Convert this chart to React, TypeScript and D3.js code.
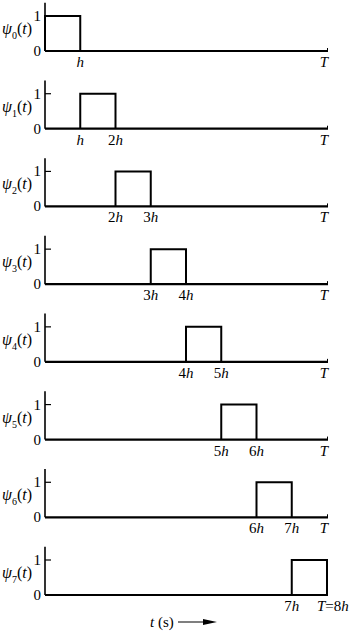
import * as d3 from "d3";

// basis functions psi_k(t): block pulse k is 1 on [k h, (k+1) h]
const basisIndex = [0, 1, 2, 3, 4, 5, 6, 7];
const pulseStart = [0, 1, 2, 3, 4, 5, 6, 7];
const pulseHeight = [1, 1, 1, 1, 1, 1, 1, 1];
const yTickLabels = ["0", "1"];
const tEnd = 8; // T = 8h
const endLabels = ["T", "T", "T", "T", "T", "T", "T", "T=8h"];
const xAxisTitle = "t (s)";

const width = 355;
const height = 633;
const serif = "Liberation Serif, DejaVu Serif, serif";

// "kh" label with upright digit and italic h
const hLabel = (k: number) => (
  <>
    {k > 1 ? <tspan>{k}</tspan> : null}
    <tspan fontStyle="italic">h</tspan>
  </>
);

const App = () => {
  const x = d3.scaleLinear().domain([0, tEnd]).range([45, 327]);
  const baseline = d3.scaleLinear().domain([0, 7]).range([51, 595]);
  const yUnit = 35;

  return (
    <svg
      width={width}
      height={height}
      style={{ position: "absolute", left: 0, top: 0, background: "#fff", fontFamily: serif }}
    >
      {basisIndex.map((k, i) => {
        const b = baseline(i);
        const y = d3.scaleLinear().domain([0, 1]).range([b, b - yUnit]);
        const s = pulseStart[i];
        const pulse = d3.line<[number, number]>()([
          [x(s), y(0)],
          [x(s), y(pulseHeight[i])],
          [x(s + 1), y(pulseHeight[i])],
          [x(s + 1), y(0)],
        ]);
        const labels: number[] = (s === 0 ? [1] : [s, s + 1]).filter((t) => t < tEnd);
        return (
          <g key={k}>
            {/* y axis */}
            <line x1={x(0)} x2={x(0)} y1={y(0)} y2={y(1.38)} stroke="#000" strokeWidth={1.6} />
            <line x1={x(0)} x2={x(0) + 6} y1={y(1)} y2={y(1)} stroke="#000" strokeWidth={1.2} />
            {/* time axis */}
            <line x1={x(0)} x2={x(tEnd) + 1} y1={y(0)} y2={y(0)} stroke="#000" strokeWidth={2.2} />
            <line x1={x(tEnd) + 0.5} x2={x(tEnd) + 0.5} y1={y(0) - 3} y2={y(0)} stroke="#000" strokeWidth={1} />
            <path d={pulse ?? ""} fill="none" stroke="#000" strokeWidth={2} />
            {/* y tick labels */}
            {yTickLabels.map((t, j) => (
              <text key={t} x={x(0) - 4} y={y(j) + 5} textAnchor="end" fontSize={15}>
                {t}
              </text>
            ))}
            {/* panel label psi_k(t) */}
            <text x={2} y={b - 17} fontSize={16}>
              <tspan fontStyle="italic">ψ</tspan>
              <tspan fontSize={10} dy={5}>{k}</tspan>
              <tspan dy={-5}>(</tspan>
              <tspan fontStyle="italic">t</tspan>
              <tspan>)</tspan>
            </text>
            {/* x tick labels */}
            {labels.map((t) => (
              <text key={t} x={x(t)} y={b + 16} textAnchor="middle" fontSize={15}>
                {hLabel(t)}
              </text>
            ))}
            {endLabels[i] === "T" ? (
              <text x={x(tEnd) - 3} y={b + 16} textAnchor="middle" fontSize={15} fontStyle="italic">
                T
              </text>
            ) : (
              <text x={x(tEnd) - 10} y={b + 16} fontSize={15}>
                <tspan fontStyle="italic">T</tspan>
                <tspan>=8</tspan>
                <tspan fontStyle="italic">h</tspan>
              </text>
            )}
          </g>
        );
      })}
      {/* axis title with arrow */}
      <text x={150} y={627} fontSize={15}>
        <tspan fontStyle="italic">{xAxisTitle.split(" ")[0]}</tspan>
        <tspan> {xAxisTitle.split(" ")[1]}</tspan>
      </text>
      <line x1={178} x2={212} y1={622} y2={622} stroke="#000" strokeWidth={1.2} />
      <path d="M203,619 L217,622 L203,625 Z" fill="#000" />
    </svg>
  );
};

export default App;
